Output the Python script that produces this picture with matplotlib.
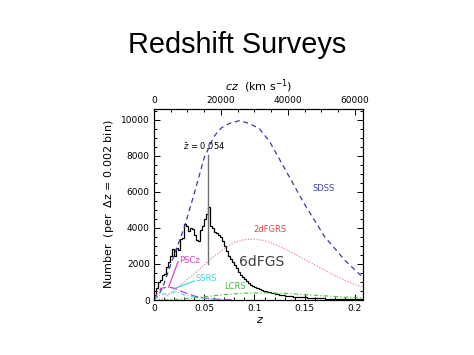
import numpy as np
import matplotlib
matplotlib.use("Agg")
import matplotlib.pyplot as plt
from matplotlib.ticker import MultipleLocator

# ---------------- data ----------------
# 6dFGS histogram (bin width 0.002, left edges from 0)
sixdf_counts = [250, 650, 1000, 1100, 1400, 1450, 1850, 2100, 2450, 2850,
                2450, 2900, 2800, 3400, 3450, 4200, 4100, 3850, 4000, 3950,
                3600, 3350, 3300, 3900, 4100, 4500, 4800, 5150, 4100, 4000,
                3800, 3700, 3600, 3500, 3250, 3000, 2700, 2450, 2300, 2100,
                1950, 1750, 1550, 1400, 1300, 1150, 1050, 950, 850, 800,
                720, 660, 620, 570, 520, 490, 450, 420, 400, 370,
                340, 320, 290, 270, 250, 240, 220, 210, 200, 190,
                180, 170, 160, 155, 150, 140, 130, 125, 120, 110,
                105, 100, 95, 90, 85, 80, 75, 72, 70, 65,
                62, 60, 58, 55, 52, 50, 48, 45, 43, 40,
                38, 36, 34, 32]
bin_width = 0.002

sdss_z = [0, 0.005, 0.01, 0.02, 0.03, 0.04, 0.05, 0.06, 0.067, 0.075, 0.085,
          0.095, 0.105, 0.115, 0.13, 0.15, 0.17, 0.19, 0.208]
sdss_n = [0, 300, 900, 2500, 4000, 5900, 7900, 9100, 9550, 9800, 9950,
          9800, 9500, 8800, 7300, 5300, 3500, 2200, 1250]

twodf_z = [0.005, 0.01, 0.02, 0.03, 0.04, 0.05, 0.06, 0.07, 0.08, 0.09, 0.1,
           0.11, 0.12, 0.13, 0.14, 0.15, 0.16, 0.17, 0.18, 0.19, 0.2, 0.208]
twodf_n = [0, 100, 550, 1000, 1450, 1950, 2450, 2850, 3200, 3350, 3380,
           3300, 3100, 2850, 2550, 2250, 1950, 1650, 1350, 1100, 850, 720]

pscz_z = [0, 0.003, 0.007, 0.0145, 0.02, 0.03, 0.04, 0.05, 0.06, 0.07, 0.08]
pscz_n = [0, 350, 650, 720, 650, 420, 220, 110, 55, 25, 10]

ssrs_z = [0, 0.005, 0.01, 0.015, 0.02, 0.025, 0.03, 0.04, 0.05, 0.06, 0.07]
ssrs_n = [0, 250, 350, 300, 450, 400, 280, 180, 90, 30, 0]

lcrs_z = [0.01, 0.03, 0.05, 0.07, 0.09, 0.11, 0.13, 0.15, 0.17, 0.19, 0.208]
lcrs_n = [0, 60, 180, 300, 380, 400, 370, 300, 230, 160, 120]

zmean = 0.054
zmean_range = [2000, 8050]

# label leader lines: (curve point) -> (label point)
pscz_leader_z = [0.0145, 0.024]
pscz_leader_n = [720, 2130]
ssrs_leader_z = [0.021, 0.040]
ssrs_leader_n = [650, 1050]

# ---------------- figure ----------------
W, H = 474, 355
fig = plt.figure(figsize=(W / 100, H / 100), dpi=100)
fig.patch.set_facecolor("white")

ax = fig.add_axes([154 / W, 1 - 300 / H, (363 - 154) / W, (300 - 109) / H])

edges = np.arange(len(sixdf_counts) + 1) * bin_width
ax.stairs(sixdf_counts, edges, color="black", lw=0.9, baseline=None)

ax.plot(sdss_z, sdss_n, color="#3a3aa8", lw=0.9, ls=(0, (4, 3)))
ax.plot(twodf_z, twodf_n, color="#e09090", lw=0.9, ls=(0, (1, 1.3)))
ax.plot(pscz_z, pscz_n, color="#b040c8", lw=0.9, ls=(0, (6, 3)))
ax.plot(ssrs_z, ssrs_n, color="#40d8d8", lw=0.8, ls=(0, (4, 2, 1, 2)))
ax.plot(lcrs_z, lcrs_n, color="#40c040", lw=0.8, ls=(0, (4, 2, 1, 2)))
ax.plot(pscz_leader_z, pscz_leader_n, color="#e040c0", lw=0.9)
ax.plot(ssrs_leader_z, ssrs_leader_n, color="#40d8d8", lw=0.9)

ax.plot([zmean, zmean], zmean_range, color="#707070", lw=1.0)

lab = dict(fontsize=6, family="DejaVu Sans")
ax.text(0.025, 2200, "PSCz", color="#e040c0", va="center", ha="left", **lab)
ax.text(0.041, 1200, "SSRS", color="#40d8d8", va="center", ha="left", **lab)
ax.text(0.0697, 740, "LCRS", color="#40c040", va="center", ha="left", **lab)
ax.text(0.0993, 3890, "2dFGRS", color="#e04848", va="center", ha="left", **lab)
ax.text(0.158, 6200, "SDSS", color="#4040b0", va="center", ha="left", **lab)
ax.text(0.085, 2130, "6dFGS", color="#404040", va="center", ha="left",
        fontsize=10, family="DejaVu Sans")
ax.text(0.029, 8600, r"$\bar{z}$ = 0.054", color="black", va="center", ha="left",
        fontsize=6, family="DejaVu Sans")

ax.set_xlim(0, 0.208)
ax.set_ylim(0, 10600)
ax.xaxis.set_major_locator(MultipleLocator(0.05))
ax.xaxis.set_minor_locator(MultipleLocator(0.01))
ax.yaxis.set_major_locator(MultipleLocator(2000))
ax.yaxis.set_minor_locator(MultipleLocator(500))
ax.set_xticks([0, 0.05, 0.1, 0.15, 0.2])
ax.set_xticklabels(["0", "0.05", "0.1", "0.15", "0.2"])
ax.tick_params(which="both", direction="in", top=False, right=True,
               labelsize=6.5, width=0.7, pad=3)
ax.tick_params(which="major", length=4)
ax.tick_params(which="minor", length=2)
for s in ax.spines.values():
    s.set_linewidth(0.8)

ax.set_xlabel("z", fontsize=8, style="italic", labelpad=1)
ax.set_ylabel(r"Number  (per  $\Delta$z = 0.002 bin)", fontsize=8, labelpad=4)

# top axis in cz
ax2 = ax.twiny()
ax2.set_xlim(0, 0.208 * 3.0e5)
ax2.xaxis.set_major_locator(MultipleLocator(20000))
ax2.xaxis.set_minor_locator(MultipleLocator(5000))
ax2.tick_params(which="both", direction="in", labelsize=6.5, width=0.7, pad=3)
ax2.tick_params(which="major", length=4)
ax2.tick_params(which="minor", length=2)
ax2.set_xlabel(r"$cz$  (km s$^{-1}$)", fontsize=8, labelpad=4)

fig.text(0.5, 1 - 45 / H, "Redshift Surveys", ha="center", va="center",
         fontsize=20.8, family="Liberation Sans")

fig.savefig("out.png", dpi=100)
